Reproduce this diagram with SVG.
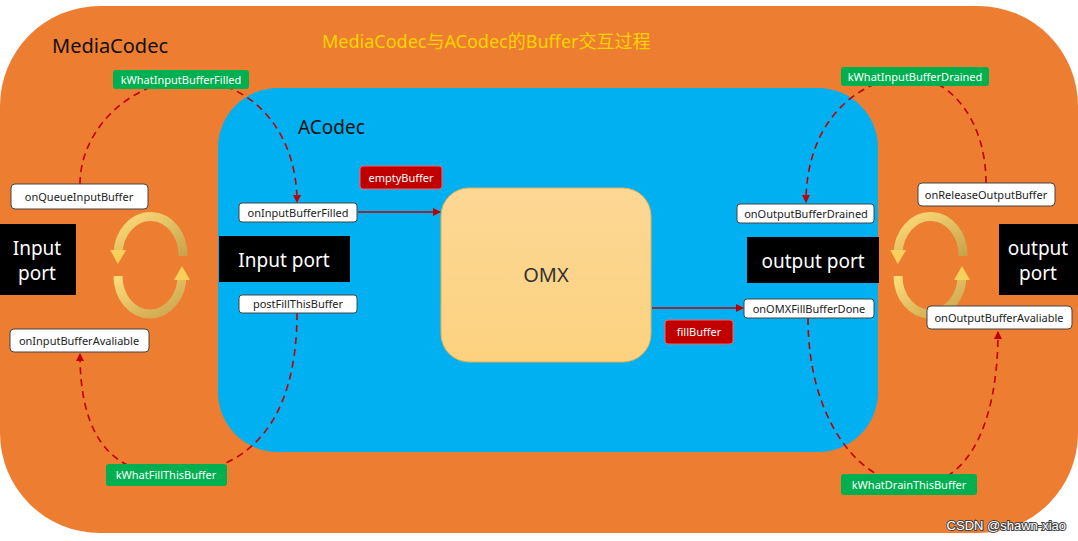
<svg xmlns="http://www.w3.org/2000/svg" width="1078" height="541" viewBox="0 0 1078 541">
<defs>
<style>
.lbl{fill:#fff;stroke:#444;stroke-width:1}
.lt{font-family:"Noto Sans","Liberation Sans",sans-serif;font-size:11px;fill:#222;text-anchor:middle}
.tag{font-family:"Noto Sans","Liberation Sans",sans-serif;font-size:11px;fill:#fff;text-anchor:middle}
.port{font-family:"Noto Sans","Liberation Sans",sans-serif;font-size:19px;fill:#fff;text-anchor:middle}
.dash{fill:none;stroke:#c00000;stroke-width:1.6;stroke-dasharray:7,5}
.solid{fill:none;stroke:#c00000;stroke-width:1.6}
.cyc{fill:none;stroke:url(#gold);stroke-width:9}
</style>
<linearGradient id="gold" x1="0" y1="0" x2="1" y2="1"><stop offset="0" stop-color="#fddc7a"/><stop offset="1" stop-color="#c9a34a"/></linearGradient>
<linearGradient id="omx" x1="0" y1="0" x2="0" y2="1"><stop offset="0" stop-color="#fdd795"/><stop offset="1" stop-color="#fcd27f"/></linearGradient>
<marker id="ah" markerWidth="8" markerHeight="8" refX="7" refY="4" orient="auto" markerUnits="userSpaceOnUse"><path d="M0,0L8,4L0,8z" fill="#c00000"/></marker>
<marker id="gh" markerWidth="18" markerHeight="18" refX="4" refY="9" orient="auto" markerUnits="userSpaceOnUse"><path d="M0,1L14,9L0,17z" fill="#f8cf5a"/></marker>
</defs>
<rect width="1078" height="541" fill="#fff"/>
<g id="mediacodec"><rect x="0" y="6" width="1078" height="527" rx="100" fill="#ed7d31"/>
<text x="52" y="53" font-family="Noto Sans,Liberation Sans,sans-serif" font-size="20" fill="#111">MediaCodec</text>
<text x="322" y="48" font-family="Noto Sans,Noto Sans CJK SC,sans-serif" font-size="18" fill="#ffd400">MediaCodec与ACodec的Buffer交互过程</text></g>
<g id="acodec"><rect x="218" y="88" width="660" height="364" rx="60" fill="#00b0f0"/>
<text x="298" y="134" font-family="Noto Sans,Liberation Sans,sans-serif" font-size="19" fill="#111">ACodec</text></g>
<g id="omxnode"><rect x="441" y="188" width="210" height="174" rx="28" fill="url(#omx)" stroke="#e8b04a" stroke-width="1"/>
<text x="546" y="282" font-family="Noto Sans,Liberation Sans,sans-serif" font-size="20" fill="#333" text-anchor="middle">OMX</text></g>
<g id="ports">
<rect x="0" y="224" width="76" height="71" fill="#000"/><text class="port" x="37" y="255">Input</text><text class="port" x="37" y="280">port</text>
<rect x="219" y="236" width="131" height="46" fill="#000"/><text class="port" x="284" y="267">Input port</text>
<rect x="747" y="237" width="132" height="46" fill="#000"/><text class="port" x="813" y="268">output port</text>
<rect x="999" y="224" width="79" height="71" fill="#000"/><text class="port" x="1038" y="255">output</text><text class="port" x="1038" y="280">port</text>
</g>
<g id="cycles">
<path class="cyc" d="M183,256 A32,38 0 0 0 118,254" marker-end="url(#gh)"/>
<path class="cyc" d="M118,276 A32,38 0 0 0 182,276" marker-end="url(#gh)"/>
<path class="cyc" d="M963,256 A32,38 0 0 0 898,254" marker-end="url(#gh)"/>
<path class="cyc" d="M898,276 A32,38 0 0 0 962,276" marker-end="url(#gh)"/>
</g>
<g id="connectors">
<path class="dash" d="M80,184 C80,130 130,80 190,80 C250,80 297,130 297,202" marker-end="url(#ah)"/>
<path class="dash" d="M297,313 C297,420 250,474 170,474 C100,474 80,420 80,354" marker-end="url(#ah)"/>
<path class="dash" d="M986,183 C986,120 950,77 910,77 C860,77 806,120 806,202" marker-end="url(#ah)"/>
<path class="dash" d="M808,318 C808,420 860,485 915,485 C970,485 998,420 998,332" marker-end="url(#ah)"/>
<path class="solid" d="M358,212 L440,212" marker-end="url(#ah)"/>
<path class="solid" d="M652,308 L743,308" marker-end="url(#ah)"/>
</g>
<g id="labels">
<rect class="lbl" x="11" y="184" width="137" height="25" rx="4"/><text class="lt" x="79" y="201">onQueueInputBuffer</text>
<rect class="lbl" x="239" y="203" width="118" height="19" rx="3"/><text class="lt" x="298" y="217">onInputBufferFilled</text>
<rect class="lbl" x="239" y="295" width="118" height="18" rx="3"/><text class="lt" x="298" y="308">postFillThisBuffer</text>
<rect class="lbl" x="10" y="329" width="139" height="23" rx="4"/><text class="lt" x="79" y="345">onInputBufferAvaliable</text>
<rect class="lbl" x="737" y="204" width="137" height="19" rx="3"/><text class="lt" x="806" y="218">onOutputBufferDrained</text>
<rect class="lbl" x="744" y="299" width="130" height="19" rx="3"/><text class="lt" x="809" y="313">onOMXFillBufferDone</text>
<rect class="lbl" x="918" y="183" width="137" height="23" rx="4"/><text class="lt" x="986" y="199">onReleaseOutputBuffer</text>
<rect class="lbl" x="927" y="306" width="145" height="23" rx="4"/><text class="lt" x="999" y="322">onOutputBufferAvaliable</text>
<rect x="113" y="70" width="136" height="19" rx="3" fill="#00b050"/><text class="tag" x="181" y="84">kWhatInputBufferFilled</text>
<rect x="106" y="464" width="121" height="22" rx="3" fill="#00b050"/><text class="tag" x="166" y="479">kWhatFillThisBuffer</text>
<rect x="841" y="67" width="148" height="19" rx="3" fill="#00b050"/><text class="tag" x="915" y="81">kWhatInputBufferDrained</text>
<rect x="841" y="474" width="136" height="21" rx="3" fill="#00b050"/><text class="tag" x="909" y="489">kWhatDrainThisBuffer</text>
<rect x="360" y="166" width="82" height="23" rx="3" fill="#c00000" stroke="#ff6060"/><text class="tag" x="401" y="182">emptyBuffer</text>
<rect x="665" y="320" width="68" height="24" rx="3" fill="#c00000" stroke="#ff6060"/><text class="tag" x="699" y="336">fillBuffer</text>
</g>
<text x="1066" y="530" font-family="Liberation Sans,sans-serif" font-size="13" fill="#fff" stroke="#444" stroke-width="2" paint-order="stroke" text-anchor="end">CSDN @shawn-xiao</text>
</svg>
